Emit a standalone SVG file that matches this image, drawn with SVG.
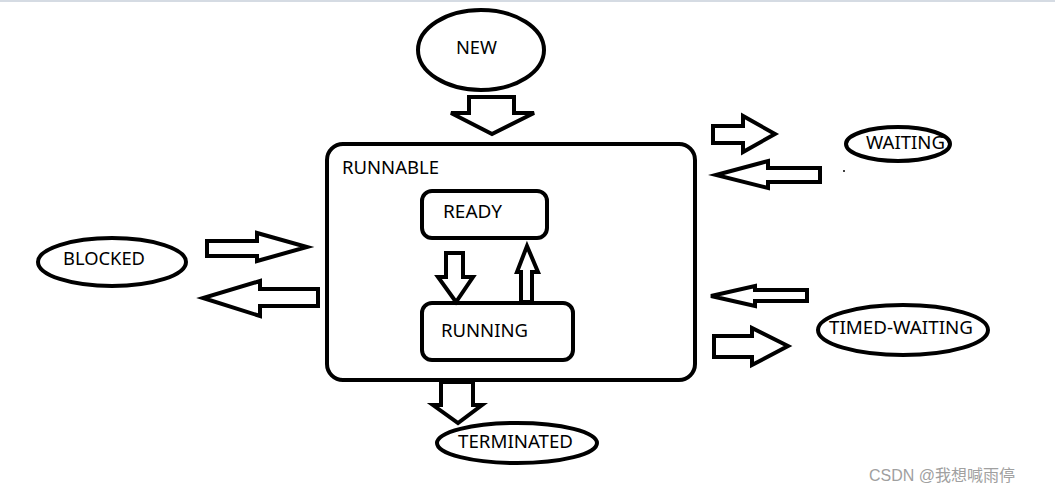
<svg xmlns="http://www.w3.org/2000/svg" width="1055" height="494" viewBox="0 0 1055 494">
<style>
.s{fill:#fff;stroke:#000;stroke-width:4;stroke-linejoin:miter}
.a{fill:#fff;stroke:#000;stroke-width:4;stroke-linejoin:miter}
.t{font-family:"Noto Sans","Open Sans",sans-serif;font-size:18.5px;fill:#000}
.w{font-family:"Liberation Sans","Noto Sans CJK SC",sans-serif;font-size:16px;fill:#a0a0a0}
</style>
<rect x="0" y="0" width="1055" height="494" fill="#fff"/>
<rect x="0" y="0" width="1055" height="2" fill="#d5dbe3"/>
<g id="runnable">
<rect class="s" x="327" y="144" width="368" height="236" rx="16"/>
<text class="t" x="342" y="174" textLength="97" lengthAdjust="spacingAndGlyphs">RUNNABLE</text>
</g>
<g id="new">
<ellipse class="s" cx="481" cy="50" rx="63" ry="40"/>
<text class="t" x="456" y="54" textLength="41" lengthAdjust="spacingAndGlyphs">NEW</text>
</g>
<g id="ready">
<rect class="s" x="422" y="191" width="125" height="47" rx="10"/>
<text class="t" x="443" y="218" textLength="59" lengthAdjust="spacingAndGlyphs">READY</text>
</g>
<g id="running">
<rect class="s" x="422" y="303" width="151" height="57" rx="10"/>
<text class="t" x="441" y="337" textLength="87" lengthAdjust="spacingAndGlyphs">RUNNING</text>
</g>
<g id="waiting">
<ellipse class="s" cx="898" cy="144" rx="52" ry="17"/>
<text class="t" x="866" y="149" textLength="79" lengthAdjust="spacingAndGlyphs">WAITING</text>
</g>
<g id="blocked">
<ellipse class="s" cx="112" cy="262" rx="74" ry="24"/>
<text class="t" x="63" y="265" textLength="82" lengthAdjust="spacingAndGlyphs">BLOCKED</text>
</g>
<g id="timed-waiting">
<ellipse class="s" cx="903" cy="330" rx="85" ry="25"/>
<text class="t" x="829" y="334" textLength="144" lengthAdjust="spacingAndGlyphs">TIMED-WAITING</text>
</g>
<g id="terminated">
<ellipse class="s" cx="517" cy="443" rx="80" ry="20"/>
<text class="t" x="458" y="448" textLength="115" lengthAdjust="spacingAndGlyphs">TERMINATED</text>
</g>
<g id="connectors">
<polygon class="a" points="469,97 514,97 514,113 534,113 492,134 451,113 469,113"/>
<polygon class="a" points="446,253 463,253 463,277 473,277 456,302 438,277 446,277"/>
<polygon class="a" points="521,302 532,302 532,272 538,272 527,246 517,272 521,272"/>
<polygon class="a" points="713,126 743,126 743,116 775,134 743,152 743,143 713,143"/>
<polygon class="a" points="820,168 820,182 768,182 768,188 716,175 768,161 768,168"/>
<polygon class="a" points="207,241 257,241 257,233 307,247 257,261 257,256 207,256"/>
<polygon class="a" points="318,289 318,306 260,306 260,316 203,298 260,281 260,289"/>
<polygon class="a" points="807,290 807,301 755,301 755,306 711,296 755,286 755,290"/>
<polygon class="a" points="714,336 752,336 752,328 788,346 752,365 752,357 714,357"/>
<polygon class="a" points="441,382 473,382 473,405 482,405 458,423 433,405 441,405"/>
<rect x="843" y="170" width="2" height="2" fill="#444"/>
</g>
<text class="w" x="869" y="481">CSDN @我想喊雨停</text>
</svg>
